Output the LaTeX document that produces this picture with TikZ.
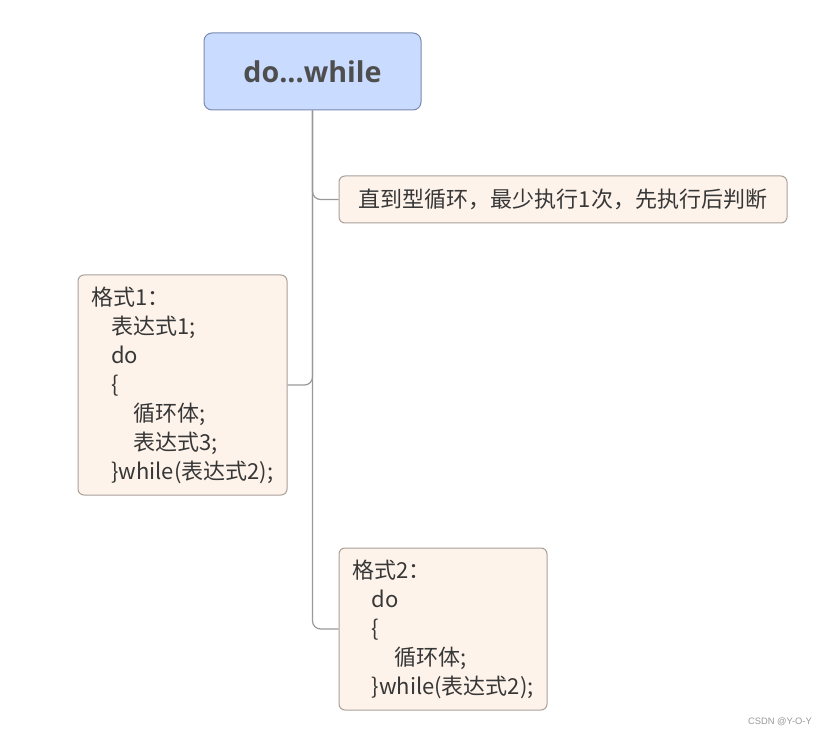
\documentclass[tikz,border=0pt]{standalone}
\usepackage{fontspec}
\setmainfont{Open Sans}
\newfontfamily\cjk{Noto Sans CJK SC}
\newfontfamily\wmfont{Liberation Sans}
\definecolor{rootfill}{RGB}{201,220,255}
\definecolor{rootdraw}{RGB}{122,136,176}
\definecolor{leaffill}{RGB}{253,243,235}
\definecolor{leafdraw}{RGB}{168,160,154}
\definecolor{conncol}{RGB}{153,153,153}
\definecolor{txt}{RGB}{55,55,55}
\definecolor{roottxt}{RGB}{78,78,78}
\newcommand\indA{\hspace*{14.5pt}}
\newcommand\indB{\hspace*{31.5pt}}
\begin{document}
\begin{tikzpicture}[x=0.75pt,y=-0.75pt,
  rootbox/.style={draw=rootdraw,fill=rootfill,line width=0.75pt,rounded corners=6pt,
    minimum width=162.75pt,minimum height=57.75pt,inner sep=2pt,
    text=roottxt,font=\fontsize{21.5pt}{26pt}\selectfont\bfseries},
  leaf/.style={draw=leafdraw,fill=leaffill,line width=0.75pt,rounded corners=4.5pt,
    inner sep=2pt,align=left,text=txt,font=\cjk\fontsize{16.5pt}{21.75pt}\selectfont},
  conn/.style={draw=conncol,line width=0.9pt,rounded corners=6pt}]
\useasboundingbox (0,0) rectangle (827,737);
\node[rootbox] (root) at (312.5,71.5) {do...while};
\node[leaf,minimum width=336pt,minimum height=35.25pt] (A) at (563,199.5)
  {直到型循环，最少执行1次，先执行后判断};
\node[leaf,minimum width=156.75pt,minimum height=165pt] (B) at (182.5,385)
  {格式1：\\\indA 表达式1;\\\indA do\\\indA \{\\\indB 循环体;\\\indB 表达式3;\\\indA \}while(表达式2);};
\node[leaf,minimum width=156pt,minimum height=121.5pt] (C) at (443,629)
  {格式2：\\\indA do\\\indA \{\\\indB 循环体;\\\indA \}while(表达式2);};
\draw[conn] (root.south) |- (A.west);
\draw[conn] (root.south) |- (B.east);
\draw[conn] (root.south) |- (C.west);
\node[anchor=east,text=conncol,font=\wmfont\fontsize{7pt}{8pt}\selectfont,inner sep=0pt] (wm) at (812,722) {CSDN @Y-O-Y};
\end{tikzpicture}
\end{document}
